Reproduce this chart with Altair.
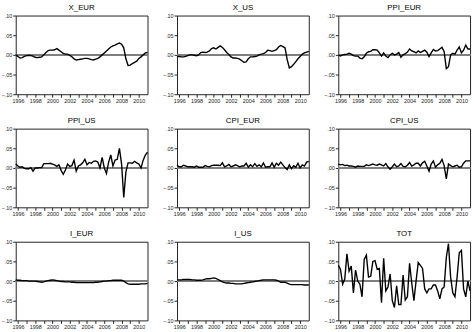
import altair as alt
import pandas as pd

N = 62
quarters = [1995.75 + i / 4 for i in range(N)]
year_ticks = list(range(1996, 2011))
y_ticks = [-0.1, -0.05, 0.0, 0.05, 0.1]

names = ["X_EUR", "X_US", "PPI_EUR", "PPI_US", "CPI_EUR", "CPI_US", "I_EUR", "I_US", "TOT"]

x_eur = [0.000,-0.004,-0.008,-0.007,-0.004,-0.002,-0.001,-0.002,-0.003,-0.006,
         -0.007,-0.006,-0.005,0.000,0.006,0.011,0.012,0.012,0.013,0.016,
         0.012,0.008,0.004,0.002,0.002,-0.001,-0.005,-0.010,-0.013,-0.012,
         -0.011,-0.010,-0.009,-0.009,-0.010,-0.012,-0.013,-0.011,-0.009,-0.005,
         0.000,0.005,0.010,0.015,0.020,0.023,0.025,0.028,0.030,0.027,
         0.018,-0.010,-0.027,-0.026,-0.022,-0.019,-0.016,-0.009,-0.005,0.000,
         0.005,0.006]
x_us = [-0.004,-0.004,-0.005,-0.005,-0.004,-0.002,0.000,0.000,-0.001,-0.002,
        0.000,0.006,0.007,0.006,0.007,0.010,0.016,0.018,0.015,0.019,
        0.023,0.019,0.013,0.006,0.001,-0.005,-0.008,-0.008,-0.009,-0.011,
        -0.015,-0.019,-0.018,-0.010,-0.005,-0.005,-0.004,-0.003,0.000,0.002,
        0.003,0.006,0.012,0.011,0.009,0.011,0.013,0.020,0.024,0.021,
        0.018,-0.012,-0.033,-0.030,-0.024,-0.017,-0.010,-0.004,0.002,0.005,
        0.007,0.009]
ppi_eur = [0.000,-0.003,0.000,0.001,0.002,0.004,0.002,-0.002,-0.003,-0.003,
           -0.008,-0.010,-0.005,0.004,0.008,0.009,0.013,0.013,0.012,0.005,
           -0.003,0.005,-0.003,-0.007,0.000,0.004,0.000,0.002,0.006,-0.006,
           0.000,0.003,0.007,0.015,0.010,0.008,0.005,0.010,0.006,0.009,
           0.012,0.007,-0.004,0.005,0.014,0.010,0.011,0.015,0.019,0.008,
           -0.035,-0.030,0.000,0.004,0.002,0.012,0.020,0.005,0.012,0.025,
           0.015,0.015]
ppi_us = [0.010,0.005,0.002,0.003,-0.001,-0.002,-0.002,0.001,-0.008,0.000,
          0.000,0.001,0.001,0.011,0.011,0.011,0.012,0.010,0.008,0.004,
          0.008,-0.006,-0.016,-0.005,0.010,0.004,0.006,0.020,-0.008,0.005,
          0.008,0.013,0.022,0.008,0.014,0.012,0.017,0.018,0.015,0.000,
          0.027,0.000,-0.014,0.015,0.033,0.005,0.020,0.022,0.050,0.010,
          -0.075,-0.010,0.013,0.013,0.012,0.017,0.013,0.010,0.000,0.020,
          0.033,0.040]
cpi_eur = [0.007,0.003,0.003,0.007,0.005,0.003,0.003,0.003,0.002,0.005,
           0.002,0.002,0.002,0.006,0.004,0.003,0.006,0.007,0.007,0.007,
           0.006,0.013,0.003,0.005,0.009,0.003,0.005,0.008,0.006,0.003,
           0.005,0.005,0.012,0.002,0.008,0.003,0.011,0.004,0.008,0.003,
           0.013,0.002,0.003,0.003,0.013,0.002,0.012,0.007,0.015,0.008,
           0.001,-0.004,0.008,-0.002,0.006,0.002,0.012,0.000,0.008,0.005,
           0.015,0.017]
cpi_us = [0.010,0.008,0.009,0.006,0.007,0.005,0.005,0.004,0.002,0.005,
          0.004,0.004,0.004,0.008,0.006,0.008,0.010,0.008,0.007,0.010,
          0.008,0.005,0.011,0.003,-0.003,0.003,0.010,0.003,0.005,0.011,
          0.004,0.003,0.007,0.014,0.005,0.008,0.012,0.012,0.005,0.013,
          0.017,0.005,-0.008,0.010,0.018,0.002,0.008,0.012,0.022,0.006,
          -0.028,0.010,0.006,0.003,0.005,0.007,0.002,0.003,0.012,0.018,
          0.018,0.018]
i_eur = [0.003,0.002,0.002,0.001,0.001,0.001,0.000,0.000,0.000,0.000,
         -0.001,-0.002,-0.003,-0.002,0.000,0.001,0.002,0.003,0.002,0.001,
         0.000,-0.001,-0.001,-0.002,-0.002,-0.002,-0.003,-0.003,-0.004,-0.004,
         -0.004,-0.004,-0.004,-0.004,-0.004,-0.004,-0.004,-0.003,-0.003,-0.002,
         -0.001,0.000,0.000,0.001,0.001,0.002,0.002,0.002,0.002,0.002,
         0.000,-0.004,-0.007,-0.008,-0.008,-0.008,-0.008,-0.008,-0.007,-0.007,
         -0.007,-0.006]
i_us = [0.003,0.003,0.003,0.004,0.004,0.004,0.004,0.003,0.003,0.002,
        0.002,0.002,0.003,0.005,0.006,0.006,0.007,0.008,0.007,0.004,
        0.001,-0.002,-0.004,-0.005,-0.005,-0.006,-0.006,-0.007,-0.007,-0.007,
        -0.007,-0.006,-0.005,-0.004,-0.003,-0.002,-0.001,0.000,0.001,0.002,
        0.003,0.003,0.003,0.003,0.003,0.003,0.002,0.000,-0.003,-0.003,
        -0.003,-0.005,-0.008,-0.009,-0.009,-0.009,-0.009,-0.009,-0.009,-0.010,
        -0.010,-0.010]
tot = [0.040,0.030,-0.008,0.005,0.069,0.025,0.038,-0.030,0.028,0.000,
       -0.008,-0.040,0.055,0.066,0.010,0.012,0.050,0.052,0.030,0.032,
       -0.055,0.058,-0.025,-0.015,0.018,-0.050,-0.067,-0.012,-0.060,-0.060,
       0.015,-0.048,-0.040,0.045,-0.005,-0.050,0.000,0.047,0.040,0.032,
       -0.020,-0.030,-0.020,-0.020,-0.010,-0.010,-0.025,-0.045,-0.020,-0.015,
       0.060,0.095,0.010,-0.030,-0.040,0.010,0.072,0.078,-0.020,-0.040,
       0.000,-0.025]

series = [x_eur, x_us, ppi_eur, ppi_us, cpi_eur, cpi_us, i_eur, i_us, tot]

FONT = "Liberation Sans"


def panel(name, vals):
    df = pd.DataFrame({"t": quarters, "v": vals, "z": [0.0] * N})
    base = alt.Chart(df)
    yscale = alt.Scale(domain=[-0.1, 0.1], nice=False)
    yaxis = alt.Axis(
        values=y_ticks,
        labelExpr="replace(format(datum.value, '.2f'), '0.', '.')",
        labelFlush=False,
        labelOverlap=False,
    )
    xenc = alt.X(
        "t:Q",
        title=None,
        scale=alt.Scale(domain=[1995.75, 2011.0], nice=False, zero=False),
        axis=alt.Axis(
            values=year_ticks,
            labelExpr="datum.value % 2 == 0 ? format(datum.value, 'd') : ''",
            labelOverlap=False,
            labelFlush=False,
        ),
    )
    zero = base.mark_rule(color="#7f7f7f", strokeWidth=1.6).encode(
        y=alt.Y("z:Q", title=None, scale=yscale, axis=yaxis)
    )
    line = base.mark_line(color="black", strokeWidth=1.4).encode(
        x=xenc, y=alt.Y("v:Q", title=None, scale=yscale, axis=yaxis)
    )
    return alt.layer(zero, line).properties(
        width=134,
        height=80,
        title=alt.TitleParams(name, fontSize=8, font=FONT, fontWeight="normal", offset=2, color="black"),
    )


panels = [panel(n, s) for n, s in zip(names, series)]

chart = (
    alt.concat(*panels, columns=3, spacing={"row": 35, "column": 30}, bounds="flush")
    .properties(padding=0, background="white")
    .configure_view(stroke="#222222", strokeWidth=1)
    .configure_axis(
        grid=False,
        domain=False,
        labelFont=FONT,
        labelFontSize=5.5,
        labelColor="#222222",
        tickColor="#222222",
        tickSize=3,
        labelPadding=1,
    )
)

chart.save("out.html", embed_options={"renderer": "svg", "actions": False})
